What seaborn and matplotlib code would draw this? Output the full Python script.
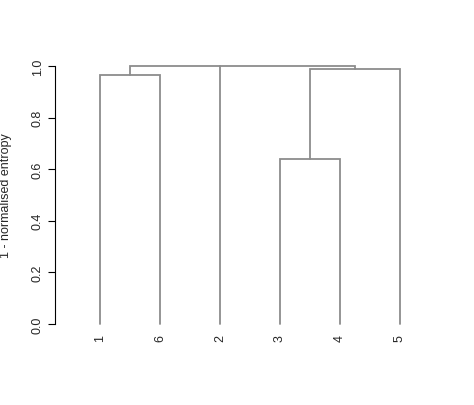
import matplotlib
matplotlib.use("Agg")
import matplotlib.pyplot as plt
import seaborn as sns

sns.set_style("white")
plt.rcParams['font.family'] = ['Liberation Sans', 'DejaVu Sans']

leaf_labels = ["1", "6", "2", "3", "4", "5"]
# merges: (left x, left height, right x, right height, merge height)
merge_left_x = [1, 4, 4.5, 1.5]
merge_left_h = [0, 0, 0.64, 0.965]
merge_right_x = [2, 5, 6, 5.25]
merge_right_h = [0, 0, 0, 0.99]
merge_height = [0.965, 0.64, 0.99, 1.0]
# leaf 2 joins the top merge directly
extra_x = [3]
extra_h = [0]
extra_top = [1.0]

W, H = 474, 406
fig = plt.figure(figsize=(W/100, H/100), dpi=100)
ax = fig.add_axes([55/W, 1-335/H, 390/W, 278/H])
col = "#8c8c8c"
for lx, lh, rx, rh, mh in zip(merge_left_x, merge_left_h, merge_right_x, merge_right_h, merge_height):
    ax.plot([lx, lx, rx, rx], [lh, mh, mh, rh], color=col, lw=1.3, solid_joinstyle='miter')
for x, h, t in zip(extra_x, extra_h, extra_top):
    ax.plot([x, x], [h, t], color=col, lw=1.3)

ax.set_xlim(0.25, 6.75)
ax.set_ylim(-0.039, 1.039)
for s in ["top", "right", "bottom"]:
    ax.spines[s].set_visible(False)
ax.spines["left"].set_bounds(0, 1)
ax.spines["left"].set_color("black")
ax.spines["left"].set_linewidth(0.8)
ax.set_xticks([])
ax.set_yticks([0, 0.2, 0.4, 0.6, 0.8, 1.0])
ax.set_yticklabels(["0.0", "0.2", "0.4", "0.6", "0.8", "1.0"], rotation=90, va="center", fontsize=9)
ax.tick_params(axis="y", left=True, length=5, width=0.8, color="black", pad=3)
ax.set_ylabel("1 - normalised entropy", fontsize=9, labelpad=14)
for i, lab in enumerate(leaf_labels):
    ax.text(i + 1, -0.04, lab, rotation=90, ha="center", va="top", fontsize=9)
fig.savefig("out.png", dpi=100)
